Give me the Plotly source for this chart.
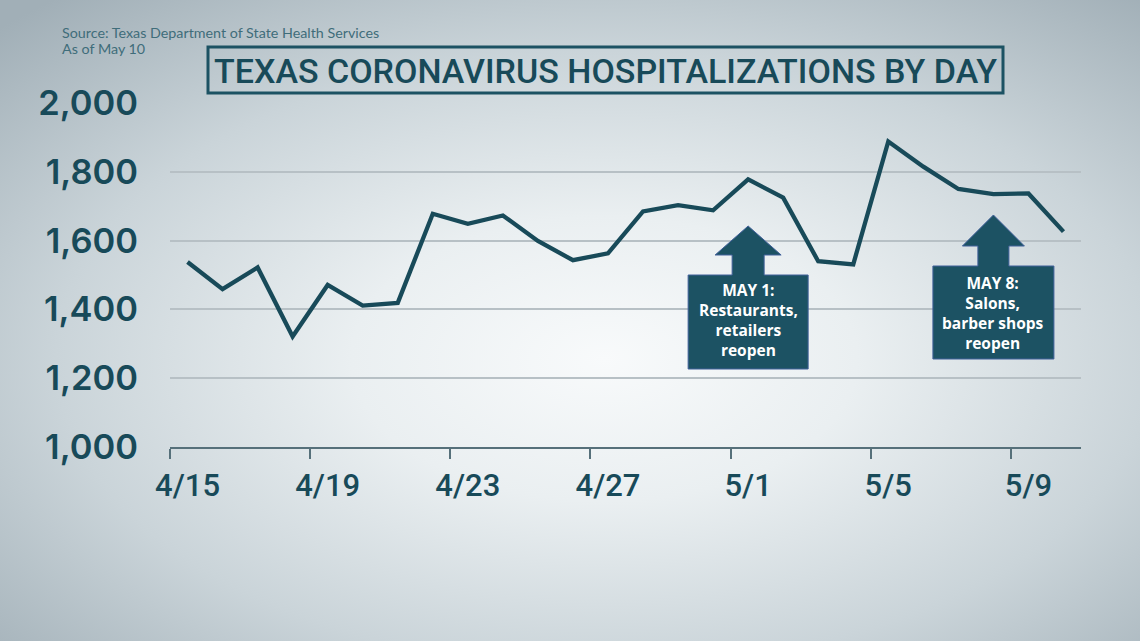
import base64
import plotly.graph_objects as go

# ---------------- data ----------------
dates = ["4/15", "4/16", "4/17", "4/18", "4/19", "4/20", "4/21", "4/22", "4/23",
         "4/24", "4/25", "4/26", "4/27", "4/28", "4/29", "4/30", "5/1", "5/2",
         "5/3", "5/4", "5/5", "5/6", "5/7", "5/8", "5/9", "5/10"]
hospitalizations = [1538, 1459, 1522, 1321, 1471, 1411, 1419, 1678, 1649,
                    1673, 1599, 1543, 1563, 1685, 1703, 1688, 1778, 1725,
                    1540, 1531, 1888, 1815, 1750, 1735, 1737, 1626]
y_ticks = [1000, 1200, 1400, 1600, 1800, 2000]
events = [("5/1", "MAY 1:<br>Restaurants,<br>retailers<br>reopen"),
          ("5/8", "MAY 8:<br>Salons,<br>barber shops<br>reopen")]
title_text = "TEXAS CORONAVIRUS HOSPITALIZATIONS BY DAY"
source_lines = ["Source: Texas Department of State Health Services", "As of May 10"]

# ---------------- layout geometry (pixels) ----------------
FW, FH = 1140, 641
L, R, T, B = 170, 1081, 103, 447
W, H = R - L, B - T
DARK = "#184a59"
BOX = "#1c5263"


def pp(x, y):
    return (x - L) / W, (B - y) / H


idx = list(range(len(dates)))
label_idx = idx[::4]

fig = go.Figure()
fig.add_trace(go.Scatter(x=idx, y=hospitalizations, mode="lines",
                         line=dict(color=DARK, width=4.3),
                         hoverinfo="skip", showlegend=False))

# background radial gradient
svg = f"""<svg xmlns='http://www.w3.org/2000/svg' width='{FW}' height='{FH}' viewBox='0 0 {FW} {FH}' preserveAspectRatio='none'>
<defs><radialGradient id='g' cx='0.53' cy='0.56' r='0.74'>
<stop offset='0' stop-color='#f8fafb'/>
<stop offset='0.3' stop-color='#eaeff1'/>
<stop offset='0.65' stop-color='#cad4d9'/>
<stop offset='1' stop-color='#a1afb7'/>
</radialGradient></defs>
<rect x='0' y='0' width='{FW}' height='{FH}' fill='url(#g)'/></svg>"""
src = "data:image/svg+xml;base64," + base64.b64encode(svg.encode()).decode()
x0, y0 = pp(0, 0)
fig.add_layout_image(dict(source=src, xref="paper", yref="paper", x=x0, y=y0,
                          sizex=FW / W, sizey=FH / H, xanchor="left", yanchor="top",
                          sizing="stretch", layer="below"))

shapes = []
annotations = []

# title box
bx0, by0 = pp(208, 47)
bx1, by1 = pp(1003, 93)
shapes.append(dict(type="rect", xref="paper", yref="paper", x0=bx0, y0=by0, x1=bx1, y1=by1,
                   line=dict(color=BOX, width=3), fillcolor="rgba(0,0,0,0)"))
tx, ty = pp(605.5, 71)
annotations.append(dict(text=title_text, xref="paper", yref="paper", x=tx, y=ty,
                        xanchor="center", yanchor="middle", showarrow=False,
                        font=dict(family="Roboto", size=34, color=DARK, weight=500)))

# source lines
for i, s in enumerate(source_lines):
    sx, sy = pp(60, 32 + i * 17)
    annotations.append(dict(text=s, xref="paper", yref="paper", x=sx, y=sy,
                            xanchor="left", yanchor="middle", showarrow=False,
                            font=dict(family="Lato", size=14.3, color="#3f6d7a")))

# event arrow boxes
geoms = [dict(tip=226, hhw=33, hb=255, shw=16, bt=275, bhw=60, bb=369, tc=320),
         dict(tip=215, hhw=31, hb=246, shw=15.5, bt=266, bhw=60.5, bb=359, tc=312.5)]
for (d, txt), g in zip(events, geoms):
    cx = L + (dates.index(d) + 0.5) * W / len(dates)
    pts = [(cx - g["bhw"], g["bb"]), (cx - g["bhw"], g["bt"]), (cx - g["shw"], g["bt"]),
           (cx - g["shw"], g["hb"]), (cx - g["hhw"], g["hb"]), (cx, g["tip"]),
           (cx + g["hhw"], g["hb"]), (cx + g["shw"], g["hb"]), (cx + g["shw"], g["bt"]),
           (cx + g["bhw"], g["bt"]), (cx + g["bhw"], g["bb"])]
    path = "M " + " L ".join(f"{pp(*p)[0]:.5f},{pp(*p)[1]:.5f}" for p in pts) + " Z"
    shapes.append(dict(type="path", xref="paper", yref="paper", path=path,
                       fillcolor=BOX, line=dict(color="#40609a", width=1)))
    ax, ay = pp(cx, g["tc"])
    annotations.append(dict(text=txt, xref="paper", yref="paper", x=ax, y=ay,
                            xanchor="center", yanchor="middle", showarrow=False,
                            align="center",
                            font=dict(family="Open Sans", size=15.5, color="white",
                                      weight="bold")))

fig.update_layout(
    width=FW, height=FH, autosize=False,
    margin=dict(l=L, r=FW - R, t=T, b=FH - B, pad=0),
    paper_bgcolor="#dfe6e9", plot_bgcolor="rgba(0,0,0,0)",
    shapes=shapes, annotations=annotations, showlegend=False,
    xaxis=dict(range=[-0.5, len(dates) - 0.5], tickmode="array", tickvals=label_idx,
               ticktext=[dates[i] for i in label_idx], ticks="", showgrid=False,
               zeroline=False, showline=True, linecolor="#56707a", linewidth=1.5,
               ticklabelstandoff=10,
               tickfont=dict(family="Roboto", size=31, color=DARK, weight=500),
               minor=dict(tickmode="array", tickvals=[i - 0.5 for i in label_idx],
                          ticks="outside", ticklen=10, tickwidth=1.5, tickcolor="#56707a",
                          showgrid=False)),
    yaxis=dict(range=[1000, 2000], tickmode="array", tickvals=y_ticks, tickformat=",",
               ticks="", showgrid=True, gridcolor="#b7c0c5", gridwidth=1.5,
               zeroline=False, showline=False, ticklabelstandoff=31,
               tickfont=dict(family="Inter", size=34.5, color=DARK, weight=600)),
)

fig.write_html("out.html")
